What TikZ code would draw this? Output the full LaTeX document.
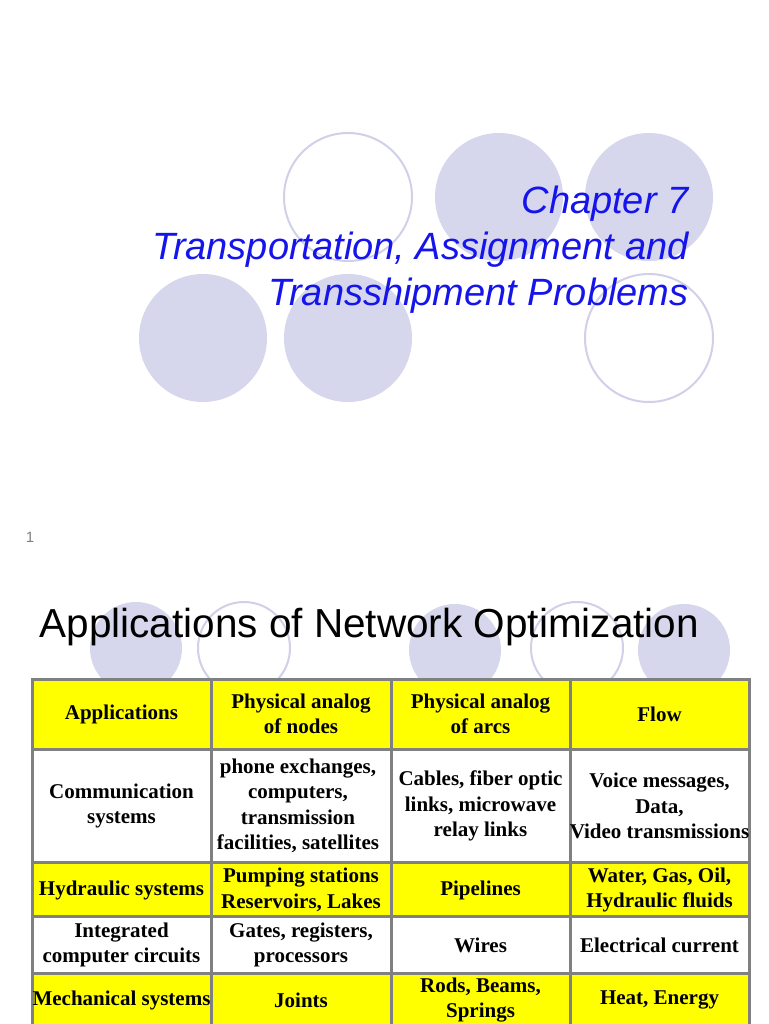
\documentclass[tikz,border=0pt]{standalone}
\usepackage{fontspec}
\setmainfont{Liberation Serif}
\setsansfont{Liberation Sans}
\definecolor{ringblue}{RGB}{214,214,236}
\definecolor{ringline}{RGB}{208,208,232}
\definecolor{titleblue}{RGB}{20,20,235}
\definecolor{cellyellow}{RGB}{255,255,0}
\definecolor{gridgray}{RGB}{128,128,128}
\tikzset{
  disc/.style={fill=ringblue},
  ring/.style={draw=ringline, line width=2pt},
  cell/.style={align=center, font=\fontsize{21}{25.5}\selectfont\bfseries},
}
\begin{document}
\begin{tikzpicture}[x=1pt,y=-1pt]
\useasboundingbox (0,0) rectangle (768,1024);

% Slide 1 rings
\draw[ring] (348,197) circle (64);
\fill[disc] (499,197) circle (64);
\fill[disc] (649,197) circle (64);
\fill[disc] (203,338) circle (64);
\fill[disc] (348,338) circle (64);
\draw[ring] (649,338) circle (64);

% Slide 1 title
\node[anchor=east, align=right, text=titleblue, font=\sffamily\itshape\fontsize{38}{46}\selectfont] (chap) at (692,250)
  {Chapter 7\\Transportation, Assignment and\\Transshipment Problems};
\node[text=gridgray, font=\sffamily\fontsize{15}{16}\selectfont] (pgno) at (30,537) {1};

% Slide 2 rings
\fill[disc] (136,648) circle (46);
\draw[ring] (244,648) circle (46);
\fill[disc] (455,650) circle (46);
\draw[ring] (577,648) circle (46);
\fill[disc] (684,650) circle (46);

\node[anchor=west, font=\sffamily\fontsize{40.5}{42}\selectfont] (apps) at (36,627) {Applications of Network Optimization};

% Table
\foreach \ya/\yb in {679/749, 862/916, 973/1030}
  \fill[cellyellow] (32,\ya) rectangle (749,\yb);
\foreach \x in {32,211,391,570,749}
  \draw[gridgray, line width=3pt] (\x,679) -- (\x,1030);
\foreach \y in {679,749,862,916,973}
  \draw[gridgray, line width=3pt] (30.5,\y) -- (750.5,\y);

\node[cell] (h1) at (121.5,714) {Applications};
\node[cell] (h2) at (301,714) {Physical analog\\of nodes};
\node[cell] (h3) at (480.5,714) {Physical analog\\of arcs};
\node[cell] (h4) at (659.5,714) {Flow};

\node[cell] (c1) at (121.5,806) {Communication\\systems};
\node[cell] (c2) at (298,806) {phone exchanges,\\computers,\\transmission\\facilities, satellites};
\node[cell] (c3) at (480.5,806) {Cables, fiber optic\\links, microwave\\relay links};
\node[cell] (c4) at (659.5,806) {Voice messages,\\Data,\\Video transmissions};

\node[cell] (d1) at (121.5,890) {Hydraulic systems};
\node[cell] (d2) at (301,890) {Pumping stations\\Reservoirs, Lakes};
\node[cell] (d3) at (480.5,890) {Pipelines};
\node[cell] (d4) at (659.5,890) {Water, Gas, Oil,\\Hydraulic fluids};

\node[cell] (e1) at (121.5,945) {Integrated\\computer circuits};
\node[cell] (e2) at (301,945) {Gates, registers,\\processors};
\node[cell] (e3) at (480.5,945) {Wires};
\node[cell] (e4) at (659.5,945) {Electrical current};

\node[cell] (f1) at (121.5,1000) {Mechanical systems};
\node[cell] (f2) at (301,1000) {Joints};
\node[cell] (f3) at (480.5,1000) {Rods, Beams,\\Springs};
\node[cell] (f4) at (659.5,1000) {Heat, Energy};
\end{tikzpicture}
\end{document}
